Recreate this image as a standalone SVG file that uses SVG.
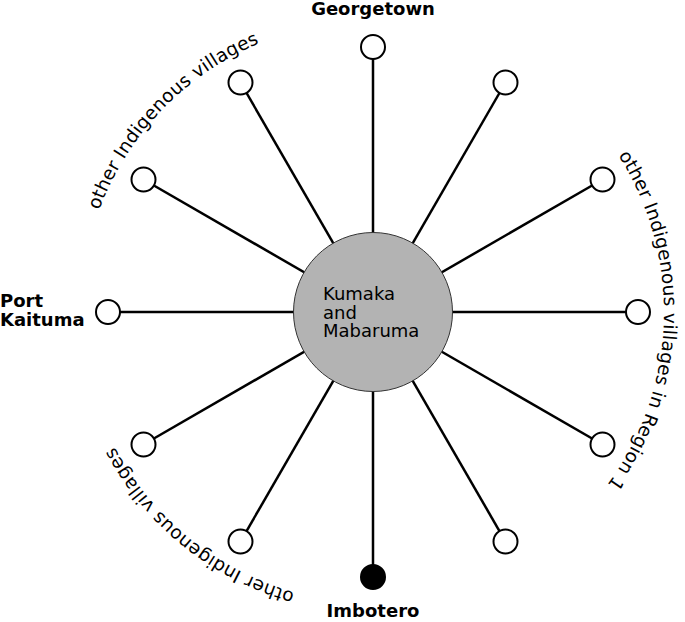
<svg xmlns="http://www.w3.org/2000/svg" xmlns:xlink="http://www.w3.org/1999/xlink" width="685" height="622" viewBox="0 0 685 622">
<style>
.edge{stroke:#000;stroke-width:2.5;fill:none}
.leaf{fill:#fff;stroke:#000;stroke-width:2}
.hub{fill:#b3b3b3;stroke:#333;stroke-width:1}
.lbl{font-family:"DejaVu Sans",Verdana,sans-serif;font-size:18px;font-weight:bold;fill:#000}
.hubt{font-family:"DejaVu Sans",Verdana,sans-serif;font-size:18px;fill:#000}
.arc{font-family:"DejaVu Sans",Verdana,sans-serif;font-size:18.5px;letter-spacing:0.2px;fill:#000}
</style>
<defs>
<path id="arcUL" d="M 99.1 210.3 A 291 291 0 0 1 298 30"/>
<path id="arcR" d="M 618.2 155.3 A 291 291 0 0 1 560 535"/>
<path id="arcLL" d="M 294.8 592.3 A 291 291 0 0 1 95 400"/>
</defs>
<rect width="685" height="622" fill="#fff"/>
<g id="connectors">
<line class="edge" x1="373" y1="312" x2="373" y2="47"/>
<line class="edge" x1="373" y1="312" x2="505.5" y2="82.5"/>
<line class="edge" x1="373" y1="312" x2="602.5" y2="179.5"/>
<line class="edge" x1="373" y1="312" x2="638" y2="312"/>
<line class="edge" x1="373" y1="312" x2="602.5" y2="444.5"/>
<line class="edge" x1="373" y1="312" x2="505.5" y2="541.5"/>
<line class="edge" x1="373" y1="312" x2="373" y2="577"/>
<line class="edge" x1="373" y1="312" x2="240.5" y2="541.5"/>
<line class="edge" x1="373" y1="312" x2="143.5" y2="444.5"/>
<line class="edge" x1="373" y1="312" x2="108" y2="312"/>
<line class="edge" x1="373" y1="312" x2="143.5" y2="179.5"/>
<line class="edge" x1="373" y1="312" x2="240.5" y2="82.5"/>
</g>
<g id="hub">
<circle class="hub" cx="373" cy="312" r="79.5"/>
<text class="hubt" x="323" y="300">Kumaka</text>
<text class="hubt" x="323" y="318.7">and</text>
<text class="hubt" x="323" y="337.3">Mabaruma</text>
</g>
<g id="georgetown">
<circle class="leaf" cx="373" cy="47" r="12"/>
<text class="lbl" x="373" y="15" text-anchor="middle">Georgetown</text>
</g>
<g id="n30"><circle class="leaf" cx="505.5" cy="82.5" r="12"/></g>
<g id="n60"><circle class="leaf" cx="602.5" cy="179.5" r="12"/></g>
<g id="n90"><circle class="leaf" cx="638" cy="312" r="12"/></g>
<g id="n120"><circle class="leaf" cx="602.5" cy="444.5" r="12"/></g>
<g id="n150"><circle class="leaf" cx="505.5" cy="541.5" r="12"/></g>
<g id="imbotero">
<circle cx="373" cy="577" r="12" fill="#000" stroke="#000" stroke-width="2"/>
<text class="lbl" x="373" y="616.7" text-anchor="middle">Imbotero</text>
</g>
<g id="n210"><circle class="leaf" cx="240.5" cy="541.5" r="12"/></g>
<g id="n240"><circle class="leaf" cx="143.5" cy="444.5" r="12"/></g>
<g id="portkaituma">
<circle class="leaf" cx="108" cy="312" r="12"/>
<text class="lbl" x="0" y="307.3">Port</text>
<text class="lbl" x="0" y="325.7">Kaituma</text>
</g>
<g id="n300"><circle class="leaf" cx="143.5" cy="179.5" r="12"/></g>
<g id="n330"><circle class="leaf" cx="240.5" cy="82.5" r="12"/></g>
<g id="arc-labels">
<text class="arc"><textPath xlink:href="#arcUL" href="#arcUL">other Indigenous villages</textPath></text>
<text class="arc"><textPath xlink:href="#arcR" href="#arcR">other Indigenous villages in Region 1</textPath></text>
<text class="arc"><textPath xlink:href="#arcLL" href="#arcLL">other Indigenous villages</textPath></text>
</g>
</svg>
